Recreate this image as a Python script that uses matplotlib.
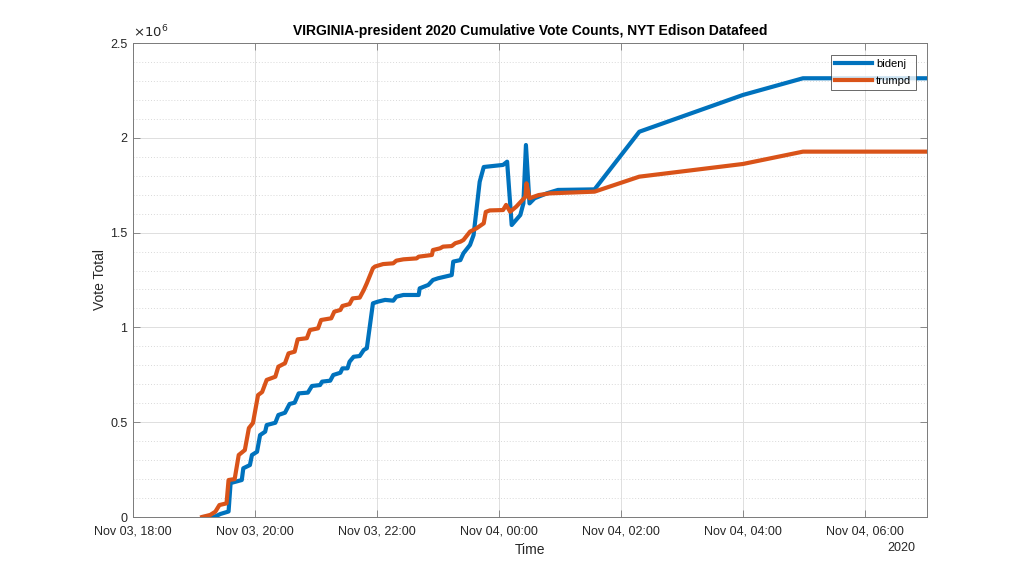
import matplotlib
matplotlib.use("Agg")
import matplotlib.pyplot as plt
import matplotlib.dates as mdates
from matplotlib.ticker import FuncFormatter, MultipleLocator
import pandas as pd

plt.rcParams['font.family'] = ['Liberation Sans', 'DejaVu Sans']

title = "VIRGINIA-president 2020 Cumulative Vote Counts, NYT Edison Datafeed"

trump_times = [
    "11-03 19:08", "11-03 19:16", "11-03 19:21", "11-03 19:25", "11-03 19:32", "11-03 19:34",
    "11-03 19:40", "11-03 19:44", "11-03 19:50", "11-03 19:54", "11-03 19:58", "11-03 20:03",
    "11-03 20:07", "11-03 20:11:30", "11-03 20:20", "11-03 20:23", "11-03 20:29:30", "11-03 20:33",
    "11-03 20:39", "11-03 20:42", "11-03 20:51", "11-03 20:54", "11-03 21:02", "11-03 21:05",
    "11-03 21:15", "11-03 21:18", "11-03 21:24", "11-03 21:26", "11-03 21:33", "11-03 21:36",
    "11-03 21:43", "11-03 21:47", "11-03 21:50", "11-03 21:56", "11-03 21:58", "11-03 22:06",
    "11-03 22:16", "11-03 22:19", "11-03 22:26", "11-03 22:39", "11-03 22:41", "11-03 22:54",
    "11-03 22:55", "11-03 23:02", "11-03 23:05", "11-03 23:13:30", "11-03 23:17", "11-03 23:22",
    "11-03 23:25", "11-03 23:31:30", "11-03 23:38", "11-03 23:45", "11-03 23:47", "11-03 23:51",
    "11-04 00:04", "11-04 00:07", "11-04 00:11", "11-04 00:17", "11-04 00:26", "11-04 00:27",
    "11-04 00:30", "11-04 00:39", "11-04 00:50", "11-04 01:34", "11-04 02:18", "11-04 04:00",
    "11-04 04:59", "11-04 07:01",
]
trump_votes = [
    0, 11000, 28000, 63000, 72000, 195000,
    200000, 327000, 353000, 469000, 496000, 643000,
    659000, 723000, 740000, 793000, 811000, 863000,
    872000, 937000, 943000, 986000, 995000, 1039000,
    1048000, 1083000, 1092000, 1113000, 1123000, 1153000,
    1157000, 1197000, 1233000, 1312000, 1321000, 1334000,
    1338000, 1352000, 1359000, 1364000, 1373000, 1382000,
    1408000, 1417000, 1426000, 1429000, 1444000, 1452000,
    1461000, 1505000, 1523000, 1549000, 1609000, 1617000,
    1619000, 1646000, 1610000, 1637000, 1689000, 1760000,
    1681000, 1698000, 1707000, 1716000, 1795000, 1862000,
    1927000, 1927000,
]

biden_times = [
    "11-03 19:09", "11-03 19:21", "11-03 19:26", "11-03 19:34", "11-03 19:36", "11-03 19:47",
    "11-03 19:48:30", "11-03 19:55", "11-03 19:57", "11-03 20:02", "11-03 20:05", "11-03 20:10",
    "11-03 20:11:30", "11-03 20:20", "11-03 20:23", "11-03 20:29:30", "11-03 20:34", "11-03 20:39",
    "11-03 20:43", "11-03 20:52", "11-03 20:56", "11-03 21:04", "11-03 21:06", "11-03 21:14",
    "11-03 21:17", "11-03 21:24", "11-03 21:26", "11-03 21:31", "11-03 21:33", "11-03 21:37",
    "11-03 21:43", "11-03 21:47", "11-03 21:50", "11-03 21:56", "11-03 22:01", "11-03 22:08",
    "11-03 22:16", "11-03 22:19", "11-03 22:26", "11-03 22:41", "11-03 22:42", "11-03 22:50:30",
    "11-03 22:55", "11-03 23:00", "11-03 23:13:30", "11-03 23:15", "11-03 23:22", "11-03 23:25",
    "11-03 23:31:30", "11-03 23:35", "11-03 23:41", "11-03 23:45", "11-04 00:04", "11-04 00:08",
    "11-04 00:12:30", "11-04 00:21", "11-04 00:24", "11-04 00:26:30", "11-04 00:30", "11-04 00:35",
    "11-04 00:47", "11-04 00:58", "11-04 01:34", "11-04 02:18", "11-04 04:00", "11-04 04:59",
    "11-04 07:01",
]
biden_votes = [
    0, 3000, 16000, 29000, 179000, 195000,
    257000, 274000, 327000, 344000, 432000, 450000,
    485000, 497000, 538000, 550000, 596000, 603000,
    652000, 656000, 691000, 696000, 714000, 719000,
    749000, 761000, 784000, 784000, 819000, 845000,
    849000, 881000, 890000, 1127000, 1136000, 1145000,
    1141000, 1162000, 1171000, 1171000, 1206000, 1224000,
    1250000, 1259000, 1276000, 1347000, 1355000, 1391000,
    1435000, 1487000, 1768000, 1846000, 1857000, 1874000,
    1540000, 1593000, 1654000, 1962000, 1654000, 1681000,
    1707000, 1725000, 1728000, 2032000, 2226000, 2314000,
    2314000,
]

x_start = "11-03 18:00"
x_end = "11-04 07:01"
y_ticks = [0, 0.5e6, 1e6, 1.5e6, 2e6, 2.5e6]

def to_dt(lst):
    return pd.to_datetime(["2020-" + s for s in lst], format='mixed')

bt = to_dt(biden_times)
tt = to_dt(trump_times)

fig = plt.figure(figsize=(10.24, 5.81), dpi=100)
ax = fig.add_axes([133/1024, 1-517/581, (927-133)/1024, (517-43)/581])

blue = "#0072BD"
orange = "#D95319"
ax.plot(bt, biden_votes, color=blue, lw=3, label="bidenj", solid_joinstyle='round', zorder=3)
ax.plot(tt, trump_votes, color=orange, lw=3, label="trumpd", solid_joinstyle='round', zorder=3)

ax.set_xlim(to_dt([x_start])[0], to_dt([x_end])[0])
ax.set_ylim(0, 2.5e6)
ax.set_yticks(y_ticks)
ax.yaxis.set_minor_locator(MultipleLocator(1e5))
ax.yaxis.set_major_formatter(FuncFormatter(lambda v, p: "%g" % (v/1e6)))
ax.xaxis.set_major_locator(mdates.HourLocator(byhour=range(0, 24, 2)))
ax.xaxis.set_major_formatter(mdates.DateFormatter("%b %d, %H:%M"))

axcol = "#262626"
for s in ax.spines.values():
    s.set_color("#7a7a7a")
    s.set_linewidth(0.7)
ax.tick_params(which='major', direction='in', length=5, width=0.6, color="#7a7a7a",
               labelsize=9, labelcolor=axcol, top=True, right=True)
ax.tick_params(axis='x', which='major', pad=6)
ax.tick_params(axis='y', which='major', pad=4)
ax.tick_params(which='minor', length=0, top=True, right=True)

ax.grid(which='major', color="#dedede", lw=0.7, ls='-')
ax.grid(which='minor', axis='y', color="#d9d9d9", lw=0.7, ls=(0, (1, 2)))
ax.set_axisbelow(True)

ax.set_title(title, fontsize=10, fontweight='bold', color='black', pad=6)
ax.set_xlabel("Time", fontsize=10, color=axcol, labelpad=4)
ax.set_ylabel("Vote Total", fontsize=10, color=axcol, labelpad=2)

ax.text(0.0, 1.005, r"$\times10^{6}$", transform=ax.transAxes, ha='left', va='bottom',
        fontsize=9.5, color=axcol)
fig.text(915/1024, 1-548/581, "2020", ha='right', va='center', fontsize=9, color=axcol)

leg = ax.legend(loc='upper right', bbox_to_anchor=(0.986, 0.975), fontsize=8.1,
                handlelength=3.3, frameon=True, fancybox=False, borderpad=0.4,
                labelspacing=0.55, handletextpad=0.35, borderaxespad=0)
leg.get_frame().set_edgecolor("#262626")
leg.get_frame().set_linewidth(0.6)
for h in leg.get_lines():
    h.set_linewidth(3)

fig.savefig("out.png", dpi=100, facecolor='white')
